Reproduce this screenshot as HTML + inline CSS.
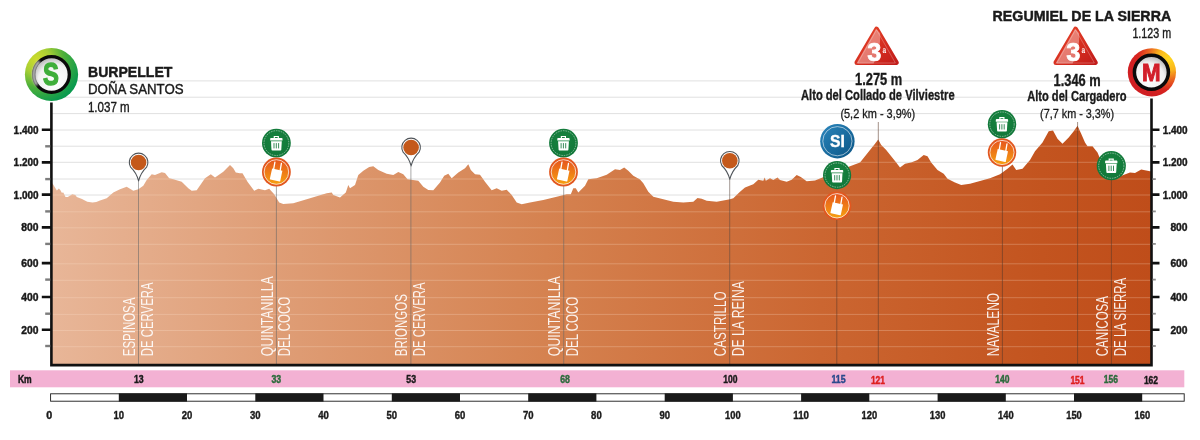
<!DOCTYPE html>
<html lang="es"><head><meta charset="utf-8"><title>Perfil de etapa</title>
<style>html,body{margin:0;padding:0;background:#fff}body{width:1200px;height:440px;overflow:hidden}svg{display:block}text{font-family:"Liberation Sans",Arial,sans-serif}</style>
</head><body>
<svg width="1200" height="440" viewBox="0 0 1200 440">
<defs>
<linearGradient id="gfill" x1="50" y1="0" x2="1152" y2="0" gradientUnits="userSpaceOnUse"><stop offset="0" stop-color="#e8b698"/><stop offset="0.2" stop-color="#df9e77"/><stop offset="0.45" stop-color="#d58250"/><stop offset="0.7" stop-color="#cb6631"/><stop offset="0.9" stop-color="#c3541f"/><stop offset="1" stop-color="#bf4d1a"/></linearGradient>
<clipPath id="cp"><polygon points="51.5,364.5 51.5,183.4 52.6,183.4 55.0,187.5 56.9,190.5 58.8,188.6 60.3,190.1 61.8,192.8 63.3,192.4 65.5,196.9 67.8,196.9 72.3,194.3 75.3,195.0 76.8,196.9 82.0,199.1 87.3,201.8 92.5,202.4 96.3,202.1 100.0,200.6 106.7,198.3 113.3,192.5 120.0,189.2 126.7,186.7 133.3,190.8 138.3,189.2 143.3,185.8 146.7,180.0 151.7,174.2 155.0,175.0 161.7,172.2 165.0,173.0 169.2,178.3 173.3,179.2 181.7,181.7 188.3,188.3 191.7,190.8 196.7,190.3 205.0,178.3 210.8,174.2 215.0,177.5 223.3,171.7 230.0,165.0 233.3,168.3 235.8,172.5 240.0,173.3 242.5,173.3 247.5,181.7 254.2,190.8 258.3,188.7 265.0,190.3 269.2,188.7 274.2,194.2 279.2,202.5 283.3,204.0 293.3,203.3 306.7,199.2 318.3,195.8 326.7,193.3 331.7,192.5 333.3,195.0 340.0,197.5 345.8,192.5 348.3,185.0 350.0,188.3 355.0,185.0 358.3,175.0 363.3,170.8 369.2,167.0 373.3,166.3 378.3,170.0 386.7,173.7 393.3,175.0 398.3,172.0 403.3,174.2 407.5,179.2 418.3,180.8 423.3,186.7 428.3,190.0 433.3,190.3 440.0,182.5 444.2,175.8 448.3,173.7 451.7,178.3 458.3,172.5 465.0,168.3 468.3,164.2 470.8,170.0 475.0,174.2 480.0,174.7 485.0,181.7 491.7,190.3 496.7,188.3 501.7,190.8 506.7,189.7 511.7,195.0 516.7,202.5 521.7,204.2 530.0,202.5 543.3,200.0 556.7,196.7 566.7,194.2 570.8,194.2 573.3,188.3 575.8,188.3 578.3,192.5 585.0,185.8 588.3,179.2 596.7,178.3 606.7,174.7 615.0,169.2 620.0,170.0 624.2,167.5 628.3,170.8 633.3,175.8 640.0,179.5 643.3,183.3 648.3,191.7 653.3,196.7 663.3,199.2 673.3,201.7 683.3,202.5 693.3,201.7 697.5,198.0 701.7,198.7 706.7,200.8 716.7,201.7 730.0,199.2 733.3,198.3 740.0,191.7 745.0,187.5 753.3,184.2 758.3,179.7 763.3,180.8 764.7,177.5 765.8,180.8 770.0,178.3 773.3,180.0 777.5,177.5 780.0,180.0 786.7,181.7 791.7,179.7 796.7,175.0 800.8,177.0 806.7,181.3 815.0,180.5 822.5,177.5 850.0,166.2 860.0,162.5 870.0,150.0 875.0,143.7 878.2,139.5 881.2,145.0 886.2,150.0 891.2,156.2 896.2,162.5 900.0,167.5 905.0,163.7 911.2,162.5 917.5,160.0 923.7,155.0 927.5,156.2 931.2,162.5 937.5,170.0 943.7,173.7 947.5,178.7 955.0,182.5 961.2,185.0 970.0,183.7 980.0,181.0 990.0,178.3 1000.0,174.3 1007.5,168.7 1012.5,164.5 1016.2,170.0 1022.5,168.7 1030.0,160.0 1035.0,151.2 1042.5,142.5 1048.7,131.2 1053.0,130.5 1057.5,138.7 1062.5,143.7 1068.7,137.5 1073.7,131.2 1077.5,125.7 1081.2,133.7 1085.0,142.5 1087.5,146.2 1092.5,146.2 1097.5,152.5 1101.2,161.2 1111.2,172.5 1120.0,176.2 1130.0,172.5 1135.0,173.0 1141.2,169.5 1150.0,171.2 1151.0,171.2 1151.0,364.5"/></clipPath>
<radialGradient id="gstart" cx="0.22" cy="0.22" r="0.85"><stop offset="0" stop-color="#cfdc2c"/><stop offset="0.3" stop-color="#a8cf34"/><stop offset="0.6" stop-color="#4fb03a"/><stop offset="1" stop-color="#0a9a4e"/></radialGradient>
<radialGradient id="gfin" cx="0.85" cy="0.22" r="0.8"><stop offset="0" stop-color="#ffd81e"/><stop offset="0.3" stop-color="#fab51c"/><stop offset="0.55" stop-color="#ea631f"/><stop offset="0.8" stop-color="#d8251f"/><stop offset="1" stop-color="#d01f22"/></radialGradient>
<radialGradient id="ginner2" cx="0.4" cy="0.7" r="0.8"><stop offset="0" stop-color="#ffffff"/><stop offset="0.6" stop-color="#f0f0f0"/><stop offset="1" stop-color="#9a9a9a"/></radialGradient>
<radialGradient id="ginner" cx="0.6" cy="0.7" r="0.8"><stop offset="0" stop-color="#ffffff"/><stop offset="0.6" stop-color="#f2f2f2"/><stop offset="1" stop-color="#9a9a9a"/></radialGradient>
<linearGradient id="gtri" x1="0" y1="0" x2="1" y2="1"><stop offset="0" stop-color="#e6452b"/><stop offset="0.55" stop-color="#d62e1f"/><stop offset="1" stop-color="#c21d1b"/></linearGradient>
<linearGradient id="gfeed" x1="0" y1="0" x2="0" y2="1"><stop offset="0" stop-color="#e6551e"/><stop offset="1" stop-color="#f6a010"/></linearGradient>
<linearGradient id="gring" x1="0" y1="1" x2="1" y2="0"><stop offset="0" stop-color="#1a1a1a"/><stop offset="0.28" stop-color="#8a8a8a"/><stop offset="0.5" stop-color="#111"/><stop offset="1" stop-color="#000"/></linearGradient>
<filter id="blur1" x="-50%" y="-50%" width="200%" height="200%"><feGaussianBlur stdDeviation="1.1"/></filter>
<linearGradient id="gsi" x1="0" y1="0" x2="1" y2="1"><stop offset="0" stop-color="#2a86bd"/><stop offset="1" stop-color="#0b5484"/></linearGradient>
<radialGradient id="ggreen" cx="0.5" cy="0.4" r="0.7"><stop offset="0" stop-color="#17843f"/><stop offset="1" stop-color="#107438"/></radialGradient>
</defs>
<rect width="1200" height="440" fill="#fff"/>
<path d="M52,346.7H1150M52,330.5H1150M52,314.4H1150M52,297.7H1150M52,280.3H1150M52,263.8H1150M52,244.3H1150M52,227.8H1150M52,211.8H1150M52,195.0H1150M52,179.0H1150M52,162.3H1150M52,146.2H1150M52,130.0H1150M52,113.6H1150M52,97.2H1150M52,80.9H1150" stroke="#e0e0e0" stroke-width="1" fill="none"/>
<polygon points="51.5,364.5 51.5,183.4 52.6,183.4 55.0,187.5 56.9,190.5 58.8,188.6 60.3,190.1 61.8,192.8 63.3,192.4 65.5,196.9 67.8,196.9 72.3,194.3 75.3,195.0 76.8,196.9 82.0,199.1 87.3,201.8 92.5,202.4 96.3,202.1 100.0,200.6 106.7,198.3 113.3,192.5 120.0,189.2 126.7,186.7 133.3,190.8 138.3,189.2 143.3,185.8 146.7,180.0 151.7,174.2 155.0,175.0 161.7,172.2 165.0,173.0 169.2,178.3 173.3,179.2 181.7,181.7 188.3,188.3 191.7,190.8 196.7,190.3 205.0,178.3 210.8,174.2 215.0,177.5 223.3,171.7 230.0,165.0 233.3,168.3 235.8,172.5 240.0,173.3 242.5,173.3 247.5,181.7 254.2,190.8 258.3,188.7 265.0,190.3 269.2,188.7 274.2,194.2 279.2,202.5 283.3,204.0 293.3,203.3 306.7,199.2 318.3,195.8 326.7,193.3 331.7,192.5 333.3,195.0 340.0,197.5 345.8,192.5 348.3,185.0 350.0,188.3 355.0,185.0 358.3,175.0 363.3,170.8 369.2,167.0 373.3,166.3 378.3,170.0 386.7,173.7 393.3,175.0 398.3,172.0 403.3,174.2 407.5,179.2 418.3,180.8 423.3,186.7 428.3,190.0 433.3,190.3 440.0,182.5 444.2,175.8 448.3,173.7 451.7,178.3 458.3,172.5 465.0,168.3 468.3,164.2 470.8,170.0 475.0,174.2 480.0,174.7 485.0,181.7 491.7,190.3 496.7,188.3 501.7,190.8 506.7,189.7 511.7,195.0 516.7,202.5 521.7,204.2 530.0,202.5 543.3,200.0 556.7,196.7 566.7,194.2 570.8,194.2 573.3,188.3 575.8,188.3 578.3,192.5 585.0,185.8 588.3,179.2 596.7,178.3 606.7,174.7 615.0,169.2 620.0,170.0 624.2,167.5 628.3,170.8 633.3,175.8 640.0,179.5 643.3,183.3 648.3,191.7 653.3,196.7 663.3,199.2 673.3,201.7 683.3,202.5 693.3,201.7 697.5,198.0 701.7,198.7 706.7,200.8 716.7,201.7 730.0,199.2 733.3,198.3 740.0,191.7 745.0,187.5 753.3,184.2 758.3,179.7 763.3,180.8 764.7,177.5 765.8,180.8 770.0,178.3 773.3,180.0 777.5,177.5 780.0,180.0 786.7,181.7 791.7,179.7 796.7,175.0 800.8,177.0 806.7,181.3 815.0,180.5 822.5,177.5 850.0,166.2 860.0,162.5 870.0,150.0 875.0,143.7 878.2,139.5 881.2,145.0 886.2,150.0 891.2,156.2 896.2,162.5 900.0,167.5 905.0,163.7 911.2,162.5 917.5,160.0 923.7,155.0 927.5,156.2 931.2,162.5 937.5,170.0 943.7,173.7 947.5,178.7 955.0,182.5 961.2,185.0 970.0,183.7 980.0,181.0 990.0,178.3 1000.0,174.3 1007.5,168.7 1012.5,164.5 1016.2,170.0 1022.5,168.7 1030.0,160.0 1035.0,151.2 1042.5,142.5 1048.7,131.2 1053.0,130.5 1057.5,138.7 1062.5,143.7 1068.7,137.5 1073.7,131.2 1077.5,125.7 1081.2,133.7 1085.0,142.5 1087.5,146.2 1092.5,146.2 1097.5,152.5 1101.2,161.2 1111.2,172.5 1120.0,176.2 1130.0,172.5 1135.0,173.0 1141.2,169.5 1150.0,171.2 1151.0,171.2 1151.0,364.5" fill="url(#gfill)"/>
<g clip-path="url(#cp)"><path d="M52,346.7H1150M52,330.5H1150M52,314.4H1150M52,297.7H1150M52,280.3H1150M52,263.8H1150M52,244.3H1150M52,227.8H1150M52,211.8H1150M52,195.0H1150M52,179.0H1150M52,162.3H1150M52,146.2H1150M52,130.0H1150M52,113.6H1150M52,97.2H1150M52,80.9H1150" stroke="#ffe9d6" stroke-opacity="0.33" stroke-width="0.8" fill="none"/></g>
<line x1="138.5" y1="180" x2="138.5" y2="364" stroke="#666" stroke-width="0.8" stroke-opacity="0.7"/>
<line x1="276.4" y1="185" x2="276.4" y2="364" stroke="#666" stroke-width="0.8" stroke-opacity="0.7"/>
<line x1="410.9" y1="166" x2="410.9" y2="364" stroke="#666" stroke-width="0.8" stroke-opacity="0.7"/>
<line x1="563.7" y1="185" x2="563.7" y2="364" stroke="#666" stroke-width="0.8" stroke-opacity="0.7"/>
<line x1="729.7" y1="179" x2="729.7" y2="364" stroke="#5c4a40" stroke-width="0.8" stroke-opacity="0.7"/>
<line x1="836.8" y1="218" x2="836.8" y2="364" stroke="#5a3a2a" stroke-width="0.8" stroke-opacity="0.7"/>
<line x1="878.3" y1="122" x2="878.3" y2="364" stroke="#5a3a2a" stroke-width="0.8" stroke-opacity="0.7"/>
<line x1="1002.4" y1="166" x2="1002.4" y2="364" stroke="#5a3a2a" stroke-width="0.8" stroke-opacity="0.7"/>
<line x1="1077.6" y1="122" x2="1077.6" y2="364" stroke="#5a3a2a" stroke-width="0.8" stroke-opacity="0.7"/>
<line x1="1111.4" y1="178" x2="1111.4" y2="364" stroke="#5a3a2a" stroke-width="0.8" stroke-opacity="0.7"/>
<path d="M51.4,102.5V365.1H1151.5V98.5" fill="none" stroke="#111" stroke-width="2.6" stroke-linejoin="miter"/>
<path d="M45.2,346.0H50.2" stroke="#7d7d7d" stroke-width="2.4" fill="none"/>
<path d="M1152.6,346.0H1155.8" stroke="#8e8e8e" stroke-width="1.8" fill="none"/>
<path d="M41.8,329.8H51M1152,329.8H1159.5" stroke="#111" stroke-width="2.6" fill="none"/>
<path d="M45.2,313.7H50.2" stroke="#7d7d7d" stroke-width="2.4" fill="none"/>
<path d="M1152.6,313.7H1155.8" stroke="#8e8e8e" stroke-width="1.8" fill="none"/>
<path d="M41.8,297.0H51M1152,297.0H1159.5" stroke="#111" stroke-width="2.6" fill="none"/>
<path d="M45.2,279.6H50.2" stroke="#7d7d7d" stroke-width="2.4" fill="none"/>
<path d="M1152.6,279.6H1155.8" stroke="#8e8e8e" stroke-width="1.8" fill="none"/>
<path d="M41.8,263.1H51M1152,263.1H1159.5" stroke="#111" stroke-width="2.6" fill="none"/>
<path d="M45.2,243.9H50.2" stroke="#7d7d7d" stroke-width="2.4" fill="none"/>
<path d="M1152.6,243.9H1155.8" stroke="#8e8e8e" stroke-width="1.8" fill="none"/>
<path d="M41.8,227.4H51M1152,227.4H1159.5" stroke="#111" stroke-width="2.6" fill="none"/>
<path d="M45.2,211.4H50.2" stroke="#7d7d7d" stroke-width="2.4" fill="none"/>
<path d="M1152.6,211.4H1155.8" stroke="#8e8e8e" stroke-width="1.8" fill="none"/>
<path d="M41.8,194.6H51M1152,194.6H1159.5" stroke="#111" stroke-width="2.6" fill="none"/>
<path d="M45.2,179.1H50.2" stroke="#7d7d7d" stroke-width="2.4" fill="none"/>
<path d="M1152.6,179.1H1155.8" stroke="#8e8e8e" stroke-width="1.8" fill="none"/>
<path d="M41.8,162.4H51M1152,162.4H1159.5" stroke="#111" stroke-width="2.6" fill="none"/>
<path d="M45.2,146.3H50.2" stroke="#7d7d7d" stroke-width="2.4" fill="none"/>
<path d="M1152.6,146.3H1155.8" stroke="#8e8e8e" stroke-width="1.8" fill="none"/>
<path d="M41.8,129.7H51M1152,129.7H1159.5" stroke="#111" stroke-width="2.6" fill="none"/>
<text x="38.5" y="133.7" font-size="11.2" font-weight="bold" fill="#1a1a1a" stroke="#1a1a1a" stroke-width="0.45" text-anchor="end" textLength="24.9" lengthAdjust="spacingAndGlyphs">1.400</text>
<text x="1187.6" y="133.7" font-size="11.2" font-weight="bold" fill="#1a1a1a" stroke="#1a1a1a" stroke-width="0.45" text-anchor="end" textLength="24.9" lengthAdjust="spacingAndGlyphs">1.400</text>
<text x="38.5" y="166.4" font-size="11.2" font-weight="bold" fill="#1a1a1a" stroke="#1a1a1a" stroke-width="0.45" text-anchor="end" textLength="24.9" lengthAdjust="spacingAndGlyphs">1.200</text>
<text x="1187.6" y="166.4" font-size="11.2" font-weight="bold" fill="#1a1a1a" stroke="#1a1a1a" stroke-width="0.45" text-anchor="end" textLength="24.9" lengthAdjust="spacingAndGlyphs">1.200</text>
<text x="38.5" y="198.6" font-size="11.2" font-weight="bold" fill="#1a1a1a" stroke="#1a1a1a" stroke-width="0.45" text-anchor="end" textLength="24.9" lengthAdjust="spacingAndGlyphs">1.000</text>
<text x="1187.6" y="198.6" font-size="11.2" font-weight="bold" fill="#1a1a1a" stroke="#1a1a1a" stroke-width="0.45" text-anchor="end" textLength="24.9" lengthAdjust="spacingAndGlyphs">1.000</text>
<text x="38.5" y="231.4" font-size="11.2" font-weight="bold" fill="#1a1a1a" stroke="#1a1a1a" stroke-width="0.45" text-anchor="end" textLength="17.2" lengthAdjust="spacingAndGlyphs">800</text>
<text x="1187.6" y="231.4" font-size="11.2" font-weight="bold" fill="#1a1a1a" stroke="#1a1a1a" stroke-width="0.45" text-anchor="end" textLength="17.2" lengthAdjust="spacingAndGlyphs">800</text>
<text x="38.5" y="267.1" font-size="11.2" font-weight="bold" fill="#1a1a1a" stroke="#1a1a1a" stroke-width="0.45" text-anchor="end" textLength="17.2" lengthAdjust="spacingAndGlyphs">600</text>
<text x="1187.6" y="267.1" font-size="11.2" font-weight="bold" fill="#1a1a1a" stroke="#1a1a1a" stroke-width="0.45" text-anchor="end" textLength="17.2" lengthAdjust="spacingAndGlyphs">600</text>
<text x="38.5" y="301.0" font-size="11.2" font-weight="bold" fill="#1a1a1a" stroke="#1a1a1a" stroke-width="0.45" text-anchor="end" textLength="17.2" lengthAdjust="spacingAndGlyphs">400</text>
<text x="1187.6" y="301.0" font-size="11.2" font-weight="bold" fill="#1a1a1a" stroke="#1a1a1a" stroke-width="0.45" text-anchor="end" textLength="17.2" lengthAdjust="spacingAndGlyphs">400</text>
<text x="38.5" y="333.8" font-size="11.2" font-weight="bold" fill="#1a1a1a" stroke="#1a1a1a" stroke-width="0.45" text-anchor="end" textLength="17.2" lengthAdjust="spacingAndGlyphs">200</text>
<text x="1187.6" y="333.8" font-size="11.2" font-weight="bold" fill="#1a1a1a" stroke="#1a1a1a" stroke-width="0.45" text-anchor="end" textLength="17.2" lengthAdjust="spacingAndGlyphs">200</text>
<rect x="10" y="370.3" width="1174.3" height="17" fill="#f3b1d3"/>
<text x="17.9" y="383" font-size="10.8" font-weight="bold" fill="#1a1a1a" stroke="#1a1a1a" stroke-width="0.45" textLength="13.8" lengthAdjust="spacingAndGlyphs">Km</text>
<text x="138.8" y="382.8" font-size="10.5" font-weight="bold" fill="#1a1a1a" stroke="#1a1a1a" stroke-width="0.45" text-anchor="middle" textLength="9.7" lengthAdjust="spacingAndGlyphs">13</text>
<text x="276.3" y="382.8" font-size="10.5" font-weight="bold" fill="#2c6b3c" stroke="#2c6b3c" stroke-width="0.45" text-anchor="middle" textLength="9.7" lengthAdjust="spacingAndGlyphs">33</text>
<text x="411.2" y="382.8" font-size="10.5" font-weight="bold" fill="#1a1a1a" stroke="#1a1a1a" stroke-width="0.45" text-anchor="middle" textLength="9.7" lengthAdjust="spacingAndGlyphs">53</text>
<text x="565" y="382.8" font-size="10.5" font-weight="bold" fill="#2c6b3c" stroke="#2c6b3c" stroke-width="0.45" text-anchor="middle" textLength="9.7" lengthAdjust="spacingAndGlyphs">68</text>
<text x="730.3" y="382.8" font-size="10.5" font-weight="bold" fill="#1a1a1a" stroke="#1a1a1a" stroke-width="0.45" text-anchor="middle" textLength="14.2" lengthAdjust="spacingAndGlyphs">100</text>
<text x="838.5" y="382.8" font-size="10.5" font-weight="bold" fill="#2b4a8c" stroke="#2b4a8c" stroke-width="0.45" text-anchor="middle" textLength="14.2" lengthAdjust="spacingAndGlyphs">115</text>
<text x="878" y="383.6" font-size="10.5" font-weight="bold" fill="#de1f1f" stroke="#de1f1f" stroke-width="0.45" text-anchor="middle" textLength="14.2" lengthAdjust="spacingAndGlyphs">121</text>
<text x="1002.3" y="382.8" font-size="10.5" font-weight="bold" fill="#2c6b3c" stroke="#2c6b3c" stroke-width="0.45" text-anchor="middle" textLength="14.2" lengthAdjust="spacingAndGlyphs">140</text>
<text x="1077.5" y="383.6" font-size="10.5" font-weight="bold" fill="#de1f1f" stroke="#de1f1f" stroke-width="0.45" text-anchor="middle" textLength="14.2" lengthAdjust="spacingAndGlyphs">151</text>
<text x="1110.8" y="382.8" font-size="10.5" font-weight="bold" fill="#2c6b3c" stroke="#2c6b3c" stroke-width="0.45" text-anchor="middle" textLength="14.2" lengthAdjust="spacingAndGlyphs">156</text>
<text x="1151" y="383.6" font-size="10.5" font-weight="bold" fill="#1a1a1a" stroke="#1a1a1a" stroke-width="0.45" text-anchor="middle" textLength="14.2" lengthAdjust="spacingAndGlyphs">162</text>
<rect x="50.6" y="393.8" width="1133.6000000000001" height="7.4" fill="#fff" stroke="#1a1a1a" stroke-width="0.9"/>
<rect x="118.8" y="393.4" width="68.2" height="8.2" fill="#1a1a1a"/>
<rect x="255.3" y="393.4" width="68.2" height="8.2" fill="#1a1a1a"/>
<rect x="391.8" y="393.4" width="68.2" height="8.2" fill="#1a1a1a"/>
<rect x="528.2" y="393.4" width="68.2" height="8.2" fill="#1a1a1a"/>
<rect x="664.7" y="393.4" width="68.2" height="8.2" fill="#1a1a1a"/>
<rect x="801.1" y="393.4" width="68.2" height="8.2" fill="#1a1a1a"/>
<rect x="937.6" y="393.4" width="68.2" height="8.2" fill="#1a1a1a"/>
<rect x="1074.0" y="393.4" width="68.2" height="8.2" fill="#1a1a1a"/>
<text x="49.3" y="418.7" font-size="10.6" font-weight="bold" fill="#1a1a1a" stroke="#1a1a1a" stroke-width="0.4" text-anchor="middle" textLength="6.0" lengthAdjust="spacingAndGlyphs">0</text>
<text x="118.8" y="418.7" font-size="10.6" font-weight="bold" fill="#1a1a1a" stroke="#1a1a1a" stroke-width="0.4" text-anchor="middle" textLength="10.6" lengthAdjust="spacingAndGlyphs">10</text>
<text x="187.1" y="418.7" font-size="10.6" font-weight="bold" fill="#1a1a1a" stroke="#1a1a1a" stroke-width="0.4" text-anchor="middle" textLength="10.6" lengthAdjust="spacingAndGlyphs">20</text>
<text x="255.3" y="418.7" font-size="10.6" font-weight="bold" fill="#1a1a1a" stroke="#1a1a1a" stroke-width="0.4" text-anchor="middle" textLength="10.6" lengthAdjust="spacingAndGlyphs">30</text>
<text x="323.5" y="418.7" font-size="10.6" font-weight="bold" fill="#1a1a1a" stroke="#1a1a1a" stroke-width="0.4" text-anchor="middle" textLength="10.6" lengthAdjust="spacingAndGlyphs">40</text>
<text x="391.8" y="418.7" font-size="10.6" font-weight="bold" fill="#1a1a1a" stroke="#1a1a1a" stroke-width="0.4" text-anchor="middle" textLength="10.6" lengthAdjust="spacingAndGlyphs">50</text>
<text x="460.0" y="418.7" font-size="10.6" font-weight="bold" fill="#1a1a1a" stroke="#1a1a1a" stroke-width="0.4" text-anchor="middle" textLength="10.6" lengthAdjust="spacingAndGlyphs">60</text>
<text x="528.2" y="418.7" font-size="10.6" font-weight="bold" fill="#1a1a1a" stroke="#1a1a1a" stroke-width="0.4" text-anchor="middle" textLength="10.6" lengthAdjust="spacingAndGlyphs">70</text>
<text x="596.4" y="418.7" font-size="10.6" font-weight="bold" fill="#1a1a1a" stroke="#1a1a1a" stroke-width="0.4" text-anchor="middle" textLength="10.6" lengthAdjust="spacingAndGlyphs">80</text>
<text x="664.7" y="418.7" font-size="10.6" font-weight="bold" fill="#1a1a1a" stroke="#1a1a1a" stroke-width="0.4" text-anchor="middle" textLength="10.6" lengthAdjust="spacingAndGlyphs">90</text>
<text x="732.9" y="418.7" font-size="10.6" font-weight="bold" fill="#1a1a1a" stroke="#1a1a1a" stroke-width="0.4" text-anchor="middle" textLength="15.6" lengthAdjust="spacingAndGlyphs">100</text>
<text x="801.1" y="418.7" font-size="10.6" font-weight="bold" fill="#1a1a1a" stroke="#1a1a1a" stroke-width="0.4" text-anchor="middle" textLength="15.6" lengthAdjust="spacingAndGlyphs">110</text>
<text x="869.4" y="418.7" font-size="10.6" font-weight="bold" fill="#1a1a1a" stroke="#1a1a1a" stroke-width="0.4" text-anchor="middle" textLength="15.6" lengthAdjust="spacingAndGlyphs">120</text>
<text x="937.6" y="418.7" font-size="10.6" font-weight="bold" fill="#1a1a1a" stroke="#1a1a1a" stroke-width="0.4" text-anchor="middle" textLength="15.6" lengthAdjust="spacingAndGlyphs">130</text>
<text x="1005.8" y="418.7" font-size="10.6" font-weight="bold" fill="#1a1a1a" stroke="#1a1a1a" stroke-width="0.4" text-anchor="middle" textLength="15.6" lengthAdjust="spacingAndGlyphs">140</text>
<text x="1074.0" y="418.7" font-size="10.6" font-weight="bold" fill="#1a1a1a" stroke="#1a1a1a" stroke-width="0.4" text-anchor="middle" textLength="15.6" lengthAdjust="spacingAndGlyphs">150</text>
<text x="1142.3" y="418.7" font-size="10.6" font-weight="bold" fill="#1a1a1a" stroke="#1a1a1a" stroke-width="0.4" text-anchor="middle" textLength="15.6" lengthAdjust="spacingAndGlyphs">160</text>
<text transform="translate(134.9,356.2) rotate(-90)" font-size="15.6" fill="#fff" fill-opacity="0.9" textLength="58.6" lengthAdjust="spacingAndGlyphs">ESPINOSA</text>
<text transform="translate(152.5,356.2) rotate(-90)" font-size="15.6" fill="#fff" fill-opacity="0.9" textLength="73.8" lengthAdjust="spacingAndGlyphs">DE CERVERA</text>
<text transform="translate(272.7,356.2) rotate(-90)" font-size="15.6" fill="#fff" fill-opacity="0.9" textLength="80" lengthAdjust="spacingAndGlyphs">QUINTANILLA</text>
<text transform="translate(290.3,356.2) rotate(-90)" font-size="15.6" fill="#fff" fill-opacity="0.9" textLength="59.4" lengthAdjust="spacingAndGlyphs">DEL COCO</text>
<text transform="translate(407.3,356.2) rotate(-90)" font-size="15.6" fill="#fff" fill-opacity="0.9" textLength="62" lengthAdjust="spacingAndGlyphs">BRIONGOS</text>
<text transform="translate(424.9,356.2) rotate(-90)" font-size="15.6" fill="#fff" fill-opacity="0.9" textLength="73.8" lengthAdjust="spacingAndGlyphs">DE CERVERA</text>
<text transform="translate(560.2,356.2) rotate(-90)" font-size="15.6" fill="#fff" fill-opacity="0.9" textLength="80" lengthAdjust="spacingAndGlyphs">QUINTANILLA</text>
<text transform="translate(577.8,356.2) rotate(-90)" font-size="15.6" fill="#fff" fill-opacity="0.9" textLength="59.4" lengthAdjust="spacingAndGlyphs">DEL COCO</text>
<text transform="translate(726.0,356.2) rotate(-90)" font-size="15.6" fill="#fff" fill-opacity="0.9" textLength="64.8" lengthAdjust="spacingAndGlyphs">CASTRILLO</text>
<text transform="translate(743.6,356.2) rotate(-90)" font-size="15.6" fill="#fff" fill-opacity="0.9" textLength="75" lengthAdjust="spacingAndGlyphs">DE LA REINA</text>
<text transform="translate(998.8,356.2) rotate(-90)" font-size="15.6" fill="#fff" fill-opacity="0.9" textLength="63.3" lengthAdjust="spacingAndGlyphs">NAVALENO</text>
<text transform="translate(1107.9,356.2) rotate(-90)" font-size="15.6" fill="#fff" fill-opacity="0.9" textLength="60.2" lengthAdjust="spacingAndGlyphs">CANICOSA</text>
<text transform="translate(1125.5,356.2) rotate(-90)" font-size="15.6" fill="#fff" fill-opacity="0.9" textLength="78.4" lengthAdjust="spacingAndGlyphs">DE LA SIERRA</text>
<path d="M138.6,180.9 Q136.4,172.7 130.6,167.2 A9.3,9.3 0 1 1 146.6,167.2 Q140.8,172.7 138.6,180.9Z" fill="#fff" stroke="#50555a" stroke-width="1.1" stroke-linejoin="round"/>
<circle cx="138.6" cy="162.5" r="7.8" fill="#c4591b"/>
<path d="M411.1,165.9 Q408.9,157.7 403.1,152.2 A9.3,9.3 0 1 1 419.1,152.2 Q413.3,157.7 411.1,165.9Z" fill="#fff" stroke="#50555a" stroke-width="1.1" stroke-linejoin="round"/>
<circle cx="411.1" cy="147.5" r="7.8" fill="#c4591b"/>
<path d="M729.8,179.2 Q727.6,171.0 721.8,165.5 A9.3,9.3 0 1 1 737.8,165.5 Q732.0,171.0 729.8,179.2Z" fill="#fff" stroke="#50555a" stroke-width="1.1" stroke-linejoin="round"/>
<circle cx="729.8" cy="160.8" r="7.8" fill="#c4591b"/>
<circle cx="276.4" cy="143.1" r="14.4" fill="url(#ggreen)"/>
<circle cx="276.4" cy="143.1" r="12.4" fill="none" stroke="#fff" stroke-opacity="0.75" stroke-width="0.6" stroke-dasharray="1.6 0.9"/>
<g transform="translate(276.4,143.1)"><path d="M-6.2,-2.5 V-4.3 Q-6.2,-5.1 -5.4,-5.1 H5.3 Q6.1,-5.1 6.1,-4.3 V-2.5Z" fill="#fff"/><path d="M-2.1,-5 V-6.6 H1.9 V-5" fill="none" stroke="#fff" stroke-width="1.2"/><path d="M-5.4,-1.9 H5.4 L4.9,6.6 Q4.85,7.4 4.1,7.4 H-4.1 Q-4.85,7.4 -4.9,6.6 Z" fill="#fff"/><path d="M-2.4,0 V5.3 M-0.1,0 V5.3 M2.2,0 V5.3" stroke="#17793d" stroke-width="0.85" fill="none"/></g>
<circle cx="276.4" cy="172" r="14.4" fill="#e2571f"/>
<circle cx="276.4" cy="172" r="12.3" fill="url(#gfeed)" stroke="#fff" stroke-opacity="0.9" stroke-width="0.8"/>
<g transform="translate(276.4,172)"><g transform="rotate(12)"><path d="M-4.9,-2.5 H5.6 V7.9 Q5.6,8.6 4.9,8.6 H-4.3 Q-5,8.6 -5,7.9 Z" fill="#fff"/><path d="M-3.3,-2.3 L-3.5,-9.3 M3.4,-2.3 L3.1,-9.4" stroke="#fff" stroke-width="1.3" fill="none" stroke-linecap="round"/></g></g>
<circle cx="563.5" cy="143.1" r="14.4" fill="url(#ggreen)"/>
<circle cx="563.5" cy="143.1" r="12.4" fill="none" stroke="#fff" stroke-opacity="0.75" stroke-width="0.6" stroke-dasharray="1.6 0.9"/>
<g transform="translate(563.5,143.1)"><path d="M-6.2,-2.5 V-4.3 Q-6.2,-5.1 -5.4,-5.1 H5.3 Q6.1,-5.1 6.1,-4.3 V-2.5Z" fill="#fff"/><path d="M-2.1,-5 V-6.6 H1.9 V-5" fill="none" stroke="#fff" stroke-width="1.2"/><path d="M-5.4,-1.9 H5.4 L4.9,6.6 Q4.85,7.4 4.1,7.4 H-4.1 Q-4.85,7.4 -4.9,6.6 Z" fill="#fff"/><path d="M-2.4,0 V5.3 M-0.1,0 V5.3 M2.2,0 V5.3" stroke="#17793d" stroke-width="0.85" fill="none"/></g>
<circle cx="563.5" cy="172" r="14.4" fill="#e2571f"/>
<circle cx="563.5" cy="172" r="12.3" fill="url(#gfeed)" stroke="#fff" stroke-opacity="0.9" stroke-width="0.8"/>
<g transform="translate(563.5,172)"><g transform="rotate(12)"><path d="M-4.9,-2.5 H5.6 V7.9 Q5.6,8.6 4.9,8.6 H-4.3 Q-5,8.6 -5,7.9 Z" fill="#fff"/><path d="M-3.3,-2.3 L-3.5,-9.3 M3.4,-2.3 L3.1,-9.4" stroke="#fff" stroke-width="1.3" fill="none" stroke-linecap="round"/></g></g>
<circle cx="837.4" cy="141.2" r="17.2" fill="url(#gsi)"/>
<circle cx="837.4" cy="141.2" r="14.6" fill="none" stroke="#fff" stroke-opacity="0.8" stroke-width="0.7"/>
<text x="837.4" y="147.2" font-size="16.6" font-weight="bold" fill="#fff" text-anchor="middle" textLength="14.8" lengthAdjust="spacingAndGlyphs" stroke="#fff" stroke-width="0.4">SI</text>
<circle cx="837.1" cy="175.1" r="14.1" fill="url(#ggreen)"/>
<circle cx="837.1" cy="175.1" r="12.1" fill="none" stroke="#fff" stroke-opacity="0.75" stroke-width="0.6" stroke-dasharray="1.6 0.9"/>
<g transform="translate(837.1,175.1)"><path d="M-6.2,-2.5 V-4.3 Q-6.2,-5.1 -5.4,-5.1 H5.3 Q6.1,-5.1 6.1,-4.3 V-2.5Z" fill="#fff"/><path d="M-2.1,-5 V-6.6 H1.9 V-5" fill="none" stroke="#fff" stroke-width="1.2"/><path d="M-5.4,-1.9 H5.4 L4.9,6.6 Q4.85,7.4 4.1,7.4 H-4.1 Q-4.85,7.4 -4.9,6.6 Z" fill="#fff"/><path d="M-2.4,0 V5.3 M-0.1,0 V5.3 M2.2,0 V5.3" stroke="#17793d" stroke-width="0.85" fill="none"/></g>
<circle cx="837" cy="205.8" r="14.3" fill="#e2571f"/>
<circle cx="837" cy="205.8" r="12.200000000000001" fill="url(#gfeed)" stroke="#fff" stroke-opacity="0.9" stroke-width="0.8"/>
<g transform="translate(837,205.8)"><g transform="rotate(12)"><path d="M-4.9,-2.5 H5.6 V7.9 Q5.6,8.6 4.9,8.6 H-4.3 Q-5,8.6 -5,7.9 Z" fill="#fff"/><path d="M-3.3,-2.3 L-3.5,-9.3 M3.4,-2.3 L3.1,-9.4" stroke="#fff" stroke-width="1.3" fill="none" stroke-linecap="round"/></g></g>
<circle cx="1002" cy="124.2" r="14.2" fill="url(#ggreen)"/>
<circle cx="1002" cy="124.2" r="12.2" fill="none" stroke="#fff" stroke-opacity="0.75" stroke-width="0.6" stroke-dasharray="1.6 0.9"/>
<g transform="translate(1002,124.2)"><path d="M-6.2,-2.5 V-4.3 Q-6.2,-5.1 -5.4,-5.1 H5.3 Q6.1,-5.1 6.1,-4.3 V-2.5Z" fill="#fff"/><path d="M-2.1,-5 V-6.6 H1.9 V-5" fill="none" stroke="#fff" stroke-width="1.2"/><path d="M-5.4,-1.9 H5.4 L4.9,6.6 Q4.85,7.4 4.1,7.4 H-4.1 Q-4.85,7.4 -4.9,6.6 Z" fill="#fff"/><path d="M-2.4,0 V5.3 M-0.1,0 V5.3 M2.2,0 V5.3" stroke="#17793d" stroke-width="0.85" fill="none"/></g>
<circle cx="1002" cy="152.5" r="14.2" fill="#e2571f"/>
<circle cx="1002" cy="152.5" r="12.1" fill="url(#gfeed)" stroke="#fff" stroke-opacity="0.9" stroke-width="0.8"/>
<g transform="translate(1002,152.5)"><g transform="rotate(12)"><path d="M-4.9,-2.5 H5.6 V7.9 Q5.6,8.6 4.9,8.6 H-4.3 Q-5,8.6 -5,7.9 Z" fill="#fff"/><path d="M-3.3,-2.3 L-3.5,-9.3 M3.4,-2.3 L3.1,-9.4" stroke="#fff" stroke-width="1.3" fill="none" stroke-linecap="round"/></g></g>
<circle cx="1111.3" cy="165.7" r="14.6" fill="url(#ggreen)"/>
<circle cx="1111.3" cy="165.7" r="12.6" fill="none" stroke="#fff" stroke-opacity="0.75" stroke-width="0.6" stroke-dasharray="1.6 0.9"/>
<g transform="translate(1111.3,165.7)"><path d="M-6.2,-2.5 V-4.3 Q-6.2,-5.1 -5.4,-5.1 H5.3 Q6.1,-5.1 6.1,-4.3 V-2.5Z" fill="#fff"/><path d="M-2.1,-5 V-6.6 H1.9 V-5" fill="none" stroke="#fff" stroke-width="1.2"/><path d="M-5.4,-1.9 H5.4 L4.9,6.6 Q4.85,7.4 4.1,7.4 H-4.1 Q-4.85,7.4 -4.9,6.6 Z" fill="#fff"/><path d="M-2.4,0 V5.3 M-0.1,0 V5.3 M2.2,0 V5.3" stroke="#17793d" stroke-width="0.85" fill="none"/></g>
<path d="M876.6,29.2 L896.2,62.6 H857.0Z" fill="url(#gtri)" stroke="url(#gtri)" stroke-width="5" stroke-linejoin="round"/>
<path d="M876.1,28.7 L856.5,63.4 H873.6 C878.6,50.6 880.6,47.2 880.1,33.2Z" fill="#fff" fill-opacity="0.36"/>
<path d="M876.6,29.8 L895.4000000000001,63.0 H857.8Z" fill="none" stroke="#fff" stroke-opacity="0.35" stroke-width="0.7" stroke-linejoin="round"/>
<text x="874.2" y="60.7" font-size="25.4" font-weight="bold" fill="#fff" stroke="#fff" stroke-width="0.7" text-anchor="middle">3</text>
<text x="884.4" y="56.599999999999994" font-size="12.5" font-weight="bold" fill="#fff" text-anchor="middle" textLength="3.6" lengthAdjust="spacingAndGlyphs">ª</text>
<path d="M1075.6,29.2 L1095.1999999999998,62.6 H1056.0Z" fill="url(#gtri)" stroke="url(#gtri)" stroke-width="5" stroke-linejoin="round"/>
<path d="M1075.1,28.7 L1055.5,63.4 H1072.6 C1077.6,50.6 1079.6,47.2 1079.1,33.2Z" fill="#fff" fill-opacity="0.36"/>
<path d="M1075.6,29.8 L1094.3999999999999,63.0 H1056.8Z" fill="none" stroke="#fff" stroke-opacity="0.35" stroke-width="0.7" stroke-linejoin="round"/>
<text x="1073.1999999999998" y="60.7" font-size="25.4" font-weight="bold" fill="#fff" stroke="#fff" stroke-width="0.7" text-anchor="middle">3</text>
<text x="1083.3999999999999" y="56.599999999999994" font-size="12.5" font-weight="bold" fill="#fff" text-anchor="middle" textLength="3.6" lengthAdjust="spacingAndGlyphs">ª</text>
<text x="878.6" y="84.6" font-size="15.6" font-weight="bold" fill="#1a1a1a" stroke="#1a1a1a" stroke-width="0.35" text-anchor="middle" textLength="47.2" lengthAdjust="spacingAndGlyphs">1.275 m</text>
<text x="877.8" y="99.7" font-size="14.9" font-weight="bold" fill="#1a1a1a" stroke="#1a1a1a" stroke-width="0.35" text-anchor="middle" textLength="153.6" lengthAdjust="spacingAndGlyphs">Alto del Collado de Vilviestre</text>
<text x="877.8" y="117.5" font-size="12.2" fill="#1a1a1a" stroke="#1a1a1a" stroke-width="0.3" text-anchor="middle" textLength="74.8" lengthAdjust="spacingAndGlyphs">(5,2 km - 3,9%)</text>
<text x="1077.2" y="85.8" font-size="15.6" font-weight="bold" fill="#1a1a1a" stroke="#1a1a1a" stroke-width="0.35" text-anchor="middle" textLength="47.2" lengthAdjust="spacingAndGlyphs">1.346 m</text>
<text x="1076.9" y="100.5" font-size="14.9" font-weight="bold" fill="#1a1a1a" stroke="#1a1a1a" stroke-width="0.35" text-anchor="middle" textLength="99.4" lengthAdjust="spacingAndGlyphs">Alto del Cargadero</text>
<text x="1077.1" y="118.1" font-size="12.2" fill="#1a1a1a" stroke="#1a1a1a" stroke-width="0.3" text-anchor="middle" textLength="74" lengthAdjust="spacingAndGlyphs">(7,7 km - 3,3%)</text>
<circle cx="51.5" cy="74.5" r="26.6" fill="url(#gstart)"/>
<circle cx="51.5" cy="74.5" r="17.8" fill="url(#ginner)" stroke="#0a0a0a" stroke-width="3.3"/>
<path d="M36.4,84.0 A17.8,17.8 0 0 1 38.6,62.3" fill="none" stroke="#c8c8c8" stroke-width="3.1" stroke-linecap="round" filter="url(#blur1)"/>
<text x="51" y="85.2" font-size="31.4" font-weight="bold" fill="#3fae3a" stroke="#3fae3a" stroke-width="1.5" text-anchor="middle" textLength="15.8" lengthAdjust="spacingAndGlyphs">S</text>
<text x="88" y="76.5" font-size="15.5" font-weight="bold" fill="#1a1a1a" stroke="#1a1a1a" stroke-width="0.45" textLength="84.4" lengthAdjust="spacingAndGlyphs">BURPELLET</text>
<text x="88" y="94.4" font-size="14.5" fill="#1a1a1a" stroke="#1a1a1a" stroke-width="0.4" textLength="95.6" lengthAdjust="spacingAndGlyphs">DOÑA SANTOS</text>
<text x="87.9" y="112" font-size="14.8" fill="#1a1a1a" stroke="#1a1a1a" stroke-width="0.4" textLength="41.8" lengthAdjust="spacingAndGlyphs">1.037 m</text>
<circle cx="1151.9" cy="72.3" r="24.1" fill="url(#gfin)"/>
<circle cx="1151.4" cy="72.3" r="17" fill="url(#ginner2)" stroke="#0a0a0a" stroke-width="3.5"/>
<text x="1151.4" y="80.6" font-size="23.4" font-weight="bold" fill="#d21f2a" stroke="#d21f2a" stroke-width="0.9" text-anchor="middle" textLength="18.6" lengthAdjust="spacingAndGlyphs">M</text>
<text x="1171.2" y="20.7" font-size="14.5" font-weight="bold" fill="#1a1a1a" stroke="#1a1a1a" stroke-width="0.45" text-anchor="end" textLength="178.6" lengthAdjust="spacingAndGlyphs">REGUMIEL DE LA SIERRA</text>
<text x="1171.2" y="38.2" font-size="14.4" fill="#1a1a1a" stroke="#1a1a1a" stroke-width="0.4" text-anchor="end" textLength="38.8" lengthAdjust="spacingAndGlyphs">1.123 m</text>
</svg></body></html>
